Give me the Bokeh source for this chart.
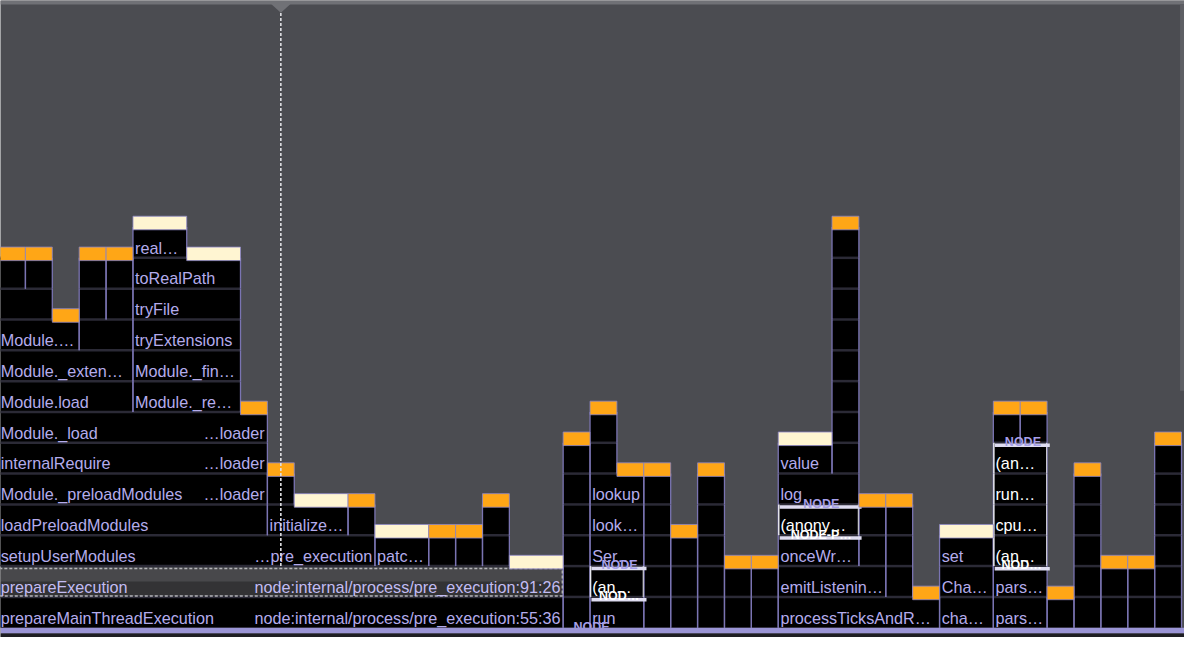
from bokeh.plotting import figure
from bokeh.models import Range1d, ColumnDataSource
from bokeh.embed import file_html
from bokeh.resources import INLINE
from bokeh.core.properties import value

# ---------------- data ----------------
# frames per stack depth: (start_col, end_col, label, right_label, kind)
# kind: "n" normal, "h" selected frame, "w" other-category frame (white)
row0 = [(0, 21, "prepareMainThreadExecution", "node:internal/process/pre_execution:55:36", "n"),
        (21, 22, "", "", "n"), (22, 24, "run", "", "n"), (24, 25, "", "", "n"),
        (25, 26, "", "", "n"), (26, 27, "", "", "n"), (27, 28, "", "", "n"),
        (28, 29, "", "", "n"), (29, 35, "processTicksAndR…", "", "n"),
        (35, 37, "cha…", "", "n"), (37, 39, "pars…", "", "n"), (39, 40, "", "", "n"),
        (40, 41, "", "", "n"), (41, 42, "", "", "n"), (42, 43, "", "", "n"), (43, 44, "", "", "n")]
row1 = [(0, 21, "prepareExecution", "node:internal/process/pre_execution:91:26", "h"),
        (21, 22, "", "", "n"), (22, 24, "(an…", "", "w"), (24, 25, "", "", "n"),
        (25, 26, "", "", "n"), (26, 27, "", "", "n"), (27, 28, "", "", "n"),
        (28, 29, "", "", "n"), (29, 33, "emitListenin…", "", "n"), (33, 34, "", "", "n"),
        (35, 37, "Cha…", "", "n"), (37, 39, "pars…", "", "n"), (40, 41, "", "", "n"),
        (41, 42, "", "", "n"), (42, 43, "", "", "n"), (43, 44, "", "", "n")]
row2 = [(0, 14, "setupUserModules", "…pre_execution", "n"), (14, 16, "patc…", "", "n"),
        (16, 17, "", "", "n"), (17, 18, "", "", "n"), (18, 19, "", "", "n"),
        (21, 22, "", "", "n"), (22, 24, "Ser…", "", "n"), (24, 25, "", "", "n"),
        (25, 26, "", "", "n"), (26, 27, "", "", "n"), (29, 32, "onceWr…", "", "n"),
        (32, 33, "", "", "n"), (33, 34, "", "", "n"), (35, 37, "set", "", "n"),
        (37, 39, "(an…", "", "w"), (40, 41, "", "", "n"), (43, 44, "", "", "n")]
row3 = [(0, 10, "loadPreloadModules", "", "n"), (10, 13, "initialize…", "", "n"),
        (13, 14, "", "", "n"), (18, 19, "", "", "n"), (21, 22, "", "", "n"),
        (22, 24, "look…", "", "n"), (24, 25, "", "", "n"), (26, 27, "", "", "n"),
        (29, 32, "(anony…", "", "w"), (32, 33, "", "", "n"), (33, 34, "", "", "n"),
        (37, 39, "cpu…", "", "w"), (40, 41, "", "", "n"), (43, 44, "", "", "n")]
row4 = [(0, 10, "Module._preloadModules", "…loader", "n"), (10, 11, "", "", "n"),
        (21, 22, "", "", "n"), (22, 24, "lookup", "", "n"), (24, 25, "", "", "n"),
        (26, 27, "", "", "n"), (29, 32, "log", "", "n"), (37, 39, "run…", "", "w"),
        (40, 41, "", "", "n"), (43, 44, "", "", "n")]
row5 = [(0, 10, "internalRequire", "…loader", "n"), (21, 22, "", "", "n"),
        (22, 23, "", "", "n"), (29, 31, "value", "", "n"), (31, 32, "", "", "n"),
        (37, 39, "(an…", "", "w"), (43, 44, "", "", "n")]
row6 = [(0, 10, "Module._load", "…loader", "n"), (22, 23, "", "", "n"),
        (31, 32, "", "", "n"), (37, 38, "", "", "n"), (38, 39, "", "", "n")]
row7 = [(0, 5, "Module.load", "", "n"), (5, 9, "Module._re…", "", "n"), (31, 32, "", "", "n")]
row8 = [(0, 5, "Module._exten…", "", "n"), (5, 9, "Module._fin…", "", "n"), (31, 32, "", "", "n")]
row9 = [(0, 3, "Module.…", "", "n"), (3, 5, "", "", "n"), (5, 9, "tryExtensions", "", "n"),
        (31, 32, "", "", "n")]
row10 = [(0, 2, "", "", "n"), (3, 4, "", "", "n"), (4, 5, "", "", "n"),
         (5, 9, "tryFile", "", "n"), (31, 32, "", "", "n")]
row11 = [(0, 1, "", "", "n"), (1, 2, "", "", "n"), (3, 4, "", "", "n"), (4, 5, "", "", "n"),
         (5, 9, "toRealPath", "", "n"), (31, 32, "", "", "n")]
row12 = [(5, 7, "real…", "", "n"), (31, 32, "", "", "n")]
rows = [row0, row1, row2, row3, row4, row5, row6, row7, row8, row9, row10, row11, row12]

# self-time caps: (depth of frame it sits on, start_col, end_col, kind)  O orange, C cream
caps = [(11, 0, 1, "O"), (11, 1, 2, "O"), (9, 2, 3, "O"), (11, 3, 4, "O"), (11, 4, 5, "O"),
        (12, 5, 7, "C"), (11, 7, 9, "C"), (6, 9, 10, "O"), (4, 10, 11, "O"), (3, 11, 13, "C"),
        (3, 13, 14, "O"), (2, 14, 16, "C"), (2, 16, 17, "O"), (2, 17, 18, "O"), (3, 18, 19, "O"),
        (1, 19, 21, "C"), (5, 21, 22, "O"), (6, 22, 23, "O"), (4, 23, 24, "O"), (4, 24, 25, "O"),
        (2, 25, 26, "O"), (4, 26, 27, "O"), (1, 27, 28, "O"), (1, 28, 29, "O"), (5, 29, 31, "C"),
        (12, 31, 32, "O"), (3, 32, 33, "O"), (3, 33, 34, "O"), (0, 34, 35, "O"), (2, 35, 37, "C"),
        (6, 37, 38, "O"), (6, 38, 39, "O"), (0, 39, 40, "O"), (4, 40, 41, "O"), (1, 41, 42, "O"),
        (1, 42, 43, "O"), (5, 43, 44, "O")]

# category badges: centre column, depth, text, kind (l lavender / w white)
badge_x = [22.06, 23.08, 23.1, 30.6, 30.6, 38.1, 38.05]
badge_row = [0, 1, 2, 4, 3, 6, 2]
badge_text = ["NODE", "NOD…", "NODE", "NODE", "NODE-P…", "NODE", "NOD…"]
badge_kind = ["l", "w", "l", "l", "w", "l", "w"]

cursor_col = 10.5

# ---------------- style ----------------
BG = "#4b4c51"
TXT = "#b4acec"
EDGE = "#7a74b2"
SEP = "#2b2a36"
ORANGE = "#ffa616"
CREAM = "#fff5d2"
FONT = "Liberation Sans"
FS = "16.2px"

U = 27.25   # reference px per column
R = 31.6    # reference px per depth
x0, x1 = 2 / U, 1202 / U
y0, y1 = -10 / R, 643 / R

p = figure(width=1184, height=637, x_range=Range1d(x0, x1), y_range=Range1d(y0, y1),
           output_backend="svg", toolbar_location=None, min_border=0,
           x_axis_location=None, y_axis_location=None)
p.grid.visible = False
p.outline_line_color = None
p.background_fill_color = BG
p.border_fill_color = BG

# gather frames
F = dict(l=[], r=[], b=[], t=[], kind=[], label=[], right=[])
for d, row in enumerate(rows):
    for s, e, lab, rl, k in row:
        F["l"].append(s); F["r"].append(e); F["b"].append(d); F["t"].append(d + 1)
        F["kind"].append(k); F["label"].append(lab); F["right"].append(rl)
n = len(F["l"])

# top strip + scrollbar
p.quad(left=x0, right=x1, bottom=(643 - 4) / R, top=y1, fill_color="#707176", line_color=None)
p.quad(left=1197.5 / U, right=x1, bottom=(643 - 400) / R, top=(643 - 4) / R,
       fill_color="#5e5f64", line_color=None)

# frame bodies
norm = [i for i in range(n) if F["kind"][i] != "h"]
p.quad(left=[F["l"][i] for i in norm], right=[F["r"][i] for i in norm],
       bottom=[F["b"][i] for i in norm], top=[F["t"][i] for i in norm],
       fill_color="#000000", line_color=None)
hl = [i for i in range(n) if F["kind"][i] == "h"]
p.quad(left=[F["l"][i] for i in hl], right=[F["r"][i] for i in hl],
       bottom=[F["b"][i] + 0.5 for i in hl], top=[F["t"][i] - 0.08 for i in hl],
       fill_color="#48484b", line_color=None)
p.quad(left=[F["l"][i] for i in hl], right=[F["r"][i] for i in hl],
       bottom=[F["b"][i] + 0.06 for i in hl], top=[F["b"][i] + 0.5 for i in hl],
       fill_color="#333335", line_color=None)

# row separators
p.segment(x0=F["l"], x1=F["r"], y0=F["t"], y1=F["t"], line_color=SEP, line_width=2.5)
# column edges
p.segment(x0=F["l"] + F["r"], x1=F["l"] + F["r"], y0=F["b"] + F["b"], y1=F["t"] + F["t"],
          line_color=EDGE, line_width=1.3)

# white-category frames
wi = [i for i in range(n) if F["kind"][i] == "w"]
wset = {(F["l"][i], F["r"][i], F["b"][i]) for i in wi}
p.segment(x0=[F["l"][i] + 0.02 for i in wi], x1=[F["l"][i] + 0.02 for i in wi],
          y0=[F["b"][i] for i in wi], y1=[F["t"][i] for i in wi], line_color="#e8e8ee", line_width=1.5)
p.segment(x0=[F["r"][i] - 0.02 for i in wi], x1=[F["r"][i] - 0.02 for i in wi],
          y0=[F["b"][i] for i in wi], y1=[F["t"][i] for i in wi], line_color="#c8c8d0", line_width=1.2)
tb_x0, tb_x1, tb_y = [], [], []
for i in wi:
    s, e, b = F["l"][i], F["r"][i], F["b"][i]
    if (s, e, b + 1) not in wset:
        tb_x0.append(s + 0.05); tb_x1.append(e + 0.1); tb_y.append(b + 1 - 0.08)
    if (s, e, b - 1) not in wset:
        tb_x0.append(s + 0.05); tb_x1.append(e + 0.1); tb_y.append(b - 0.09)
p.segment(x0=tb_x0, x1=tb_x1, y0=tb_y, y1=tb_y, line_color="#dedcf0", line_width=3.5)

# selected-frame dashed outline
p.quad(left=[F["l"][i] + 0.03 for i in hl], right=[F["r"][i] - 0.03 for i in hl],
       bottom=[F["b"][i] + 0.03 for i in hl], top=[F["t"][i] - 0.08 for i in hl],
       fill_color=None, line_color="#b4b4b8", line_dash="3 2", line_width=1.5)

# caps
cap_src = ColumnDataSource(dict(
    l=[c[1] for c in caps], r=[c[2] for c in caps],
    b=[c[0] + 1 - 0.09 for c in caps], t=[c[0] + 1 + 0.35 for c in caps],
    c=[ORANGE if c[3] == "O" else CREAM for c in caps]))
p.quad(left="l", right="r", bottom="b", top="t", fill_color="c", source=cap_src,
       line_color="#8c86c6", line_width=1, line_alpha=0.8)

# labels
lab_idx = [i for i in range(n) if F["label"][i]]
lsrc = ColumnDataSource(dict(
    x=[F["l"][i] + 0.08 for i in lab_idx], y=[F["b"][i] + 0.33 for i in lab_idx],
    t=[F["label"][i] for i in lab_idx],
    c=["#ffffff" if F["kind"][i] == "w" else ("#c2bcf2" if F["kind"][i] == "h" else TXT)
       for i in lab_idx]))
p.text(x="x", y="y", text="t", source=lsrc, text_color="c", text_font=value(FONT),
       text_font_size=value(FS), text_baseline="alphabetic", text_align="left")
r_idx = [i for i in range(n) if F["right"][i]]
rsrc = ColumnDataSource(dict(
    x=[F["r"][i] - 0.1 for i in r_idx], y=[F["b"][i] + 0.33 for i in r_idx],
    t=[F["right"][i] for i in r_idx],
    c=["#c2bcf2" if F["kind"][i] == "h" else TXT for i in r_idx]))
p.text(x="x", y="y", text="t", source=rsrc, text_color="c", text_font=value(FONT),
       text_font_size=value(FS), text_baseline="alphabetic", text_align="right")

# badges
bsrc = ColumnDataSource(dict(x=badge_x, y=[r + 0.02 for r in badge_row], t=badge_text,
                             c=["#ffffff" if k == "w" else "#a69fe8" for k in badge_kind]))
p.text(x="x", y="y", text="t", source=bsrc, text_color="c", text_font=value(FONT),
       text_font_size=value("12.5px"), text_font_style="bold", text_baseline="alphabetic",
       text_align="center")

# cursor
p.segment(x0=[cursor_col], x1=[cursor_col], y0=[2.0], y1=[(643 - 12) / R],
          line_color="#e0e0e4", line_dash="3 2", line_width=1.6)
p.patch(x=[cursor_col - 0.36, cursor_col + 0.36, cursor_col],
        y=[(643 - 3.5) / R, (643 - 3.5) / R, (643 - 12.5) / R], fill_color="#707176", line_color=None)

# bottom band
p.quad(left=x0, right=x1, bottom=-6 / R, top=0.0, fill_color="#9b95d6", line_color=None)
p.quad(left=x0, right=x1, bottom=y0, top=-6 / R, fill_color="#1e1e23", line_color=None)

open("out.html", "w").write(file_html(p, INLINE))
